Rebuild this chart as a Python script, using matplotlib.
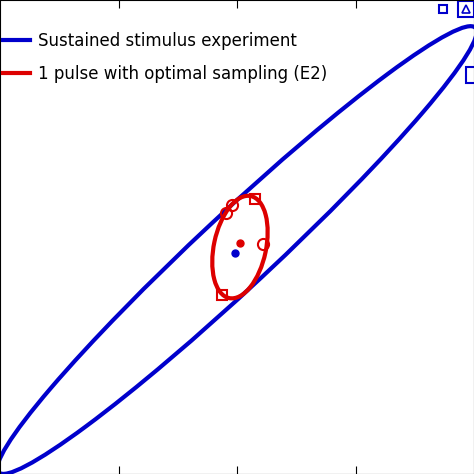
import numpy as np
import matplotlib.pyplot as plt
from matplotlib.patches import Ellipse

# ellipse params: center x, center y, width, height, angle
blue_ell = [2.0, 1.89, 5.5, 0.62, 43]
red_ell = [2.025, 1.915, 0.44, 0.88, -12]

blue_dot = [1.98, 1.865]
red_dot = [2.025, 1.95]
red_circ_x = [1.91, 1.96, 2.22]
red_circ_y = [2.20, 2.27, 1.94]
red_sq_x = [2.15, 1.87]
red_sq_y = [2.32, 1.51]
blue_sq_x = [3.74, 3.93, 4.0]
blue_sq_y = [3.92, 3.92, 3.37]

fig, ax = plt.subplots(figsize=(4.74, 4.74), dpi=100)
fig.subplots_adjust(left=0, right=1, bottom=0, top=1)

ax.add_patch(Ellipse(blue_ell[:2], blue_ell[2], blue_ell[3], angle=blue_ell[4],
                     fill=False, ec='#0000cc', lw=3))
ax.add_patch(Ellipse(red_ell[:2], red_ell[2], red_ell[3], angle=red_ell[4],
                     fill=False, ec='#dd0000', lw=3))

ax.plot(*blue_dot, 'o', color='#0000cc', ms=5)
ax.plot(*red_dot, 'o', color='#dd0000', ms=5)
ax.plot(red_circ_x, red_circ_y, 'o', mfc='none', mec='#dd0000', ms=8, mew=1.5)
ax.plot(red_sq_x, red_sq_y, 's', mfc='none', mec='#dd0000', ms=7, mew=1.5)
ax.plot(blue_sq_x[:1], blue_sq_y[:1], 's', mfc='none', mec='#0000cc', ms=6, mew=1.5)
ax.plot(blue_sq_x[1:], blue_sq_y[1:], 's', mfc='none', mec='#0000cc', ms=12, mew=1.5)
ax.plot(blue_sq_x[1:2], blue_sq_y[1:2], '^', mfc='none', mec='#0000cc', ms=6, mew=1.2)

ax.plot([], [], color='#0000cc', lw=3, label='Sustained stimulus experiment')
ax.plot([], [], color='#dd0000', lw=3, label='1 pulse with optimal sampling (E2)')
ax.legend(loc='upper left', bbox_to_anchor=(-0.025, 0.965), frameon=False,
          fontsize=12, handlelength=1.6, handletextpad=0.5, labelspacing=0.9)

ax.set_xlim(0, 4)
ax.set_ylim(0, 4)
ax.set_xticks([1, 2, 3])
ax.set_yticks([])
ax.tick_params(axis='x', top=True, direction='in', length=6, labelbottom=False)
plt.savefig('out.png', dpi=100)
